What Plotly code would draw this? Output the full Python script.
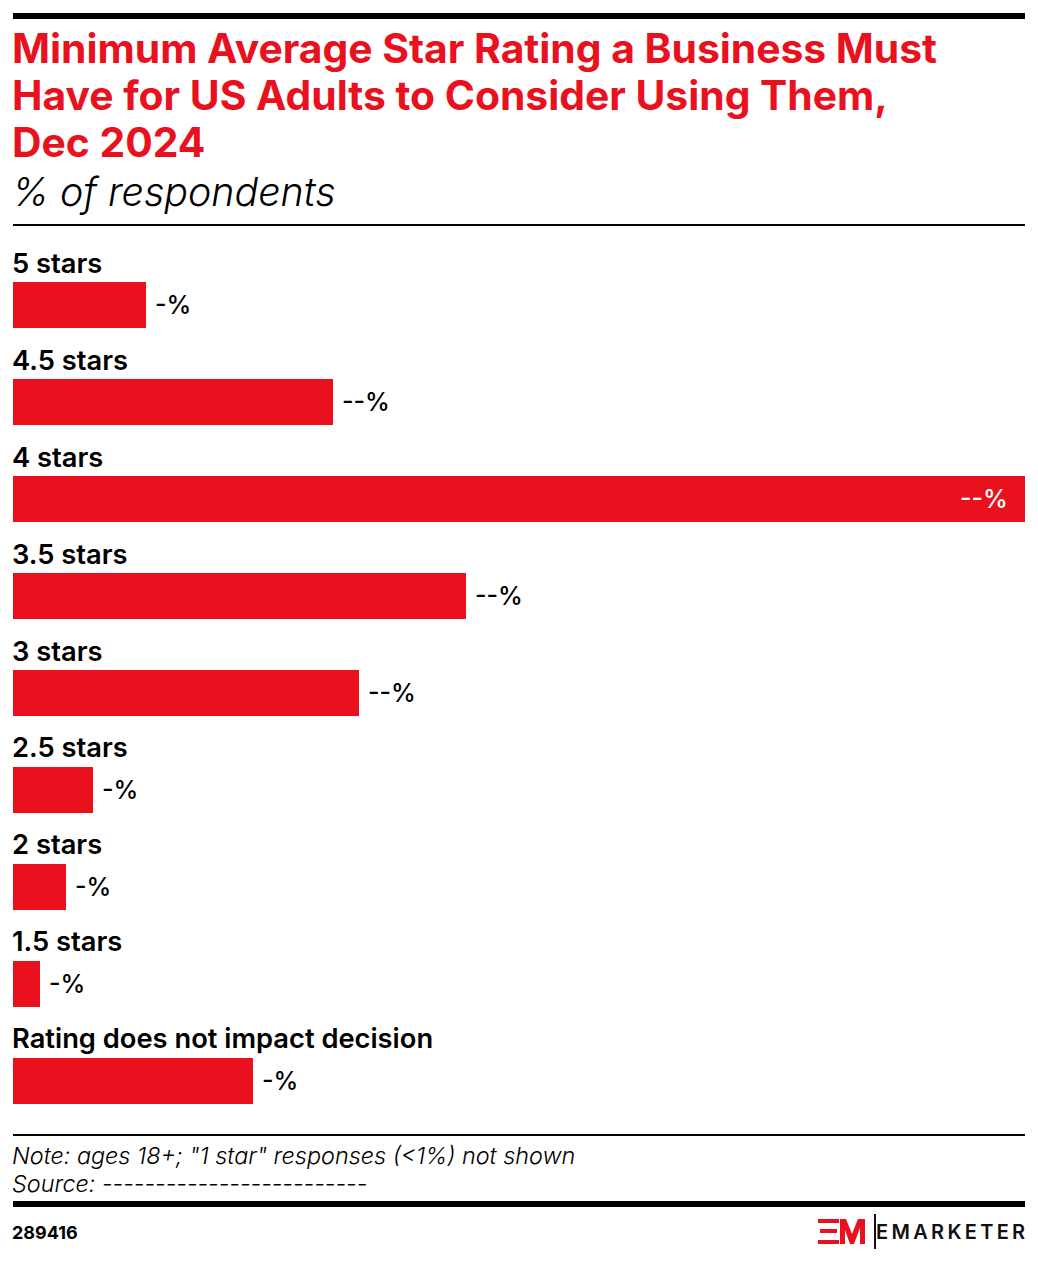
import plotly.graph_objects as go

categories = ["5 stars", "4.5 stars", "4 stars", "3.5 stars", "3 stars",
              "2.5 stars", "2 stars", "1.5 stars", "Rating does not impact decision"]
values = [5, 12, 38, 17, 13, 3, 2, 1, 9]
value_labels = ["-%", "--%", "--%", "--%", "--%", "-%", "-%", "-%", "-%"]
inside_label = [False, False, True, False, False, False, False, False, False]

title_lines = ["Minimum Average Star Rating a Business Must",
               "Have for US Adults to Consider Using Them,",
               "Dec 2024"]
subtitle = "% of respondents"
note = "Note: ages 18+; \"1 star\" responses (<1%) not shown"
source = "Source: -------------------------"
chart_id = "289416"

RED = "#E8111D"
W, H = 1038, 1262
ML, MR, MT, MB = 13, 13, 257, 133
PW = W - ML - MR
PH = H - MT - MB
FONT = "Inter, Roboto, sans-serif"


def px2x(px):
    return (px - ML) / PW


def px2y(py):
    return (H - MB - py) / PH


fig = go.Figure()
fig.add_trace(go.Bar(
    x=values, y=categories, orientation="h",
    marker=dict(color=RED, line=dict(width=0)),
    width=0.474, hoverinfo="skip", cliponaxis=False,
))

annotations = []
# category labels above bars
for c in categories:
    annotations.append(dict(
        x=0, y=c, xref="x", yref="y", text=c, showarrow=False,
        xanchor="left", yanchor="middle", yshift=42, xshift=-3,
        font=dict(family=FONT, size=27.3, color="#000", weight=600),
    ))
# value labels
for c, v, lab, ins in zip(categories, values, value_labels, inside_label):
    annotations.append(dict(
        x=v, y=c, xref="x", yref="y", text=lab, showarrow=False,
        xanchor="right" if ins else "left", yanchor="middle",
        xshift=-15 if ins else 7,
        font=dict(family=FONT, size=25, color="#fff" if ins else "#000", weight=500),
    ))


def text_at(px, py, txt, size, color="#000", weight=400, style="normal",
            xanchor="left"):
    annotations.append(dict(
        x=px2x(px), y=px2y(py), xref="paper", yref="paper",
        text=txt, showarrow=False, align=xanchor,
        xanchor=xanchor, yanchor="middle",
        font=dict(family=FONT, size=size, color=color, weight=weight, style=style),
    ))


# title
for i, line in enumerate(title_lines):
    text_at(10, 48 + 47 * i, line, 40.8, RED, 700)
text_at(10, 192, subtitle, 39.4, "#000", 300, "italic")
text_at(10, 1155, note, 23.4, "#000", 300, "italic")
text_at(10, 1183, source, 23.4, "#000", 300, "italic")
text_at(10, 1232, chart_id, 18, "#000", 700)
text_at(1027, 1232, "\u2009".join("EMARKETER"), 20, "#111", 600, xanchor="right")

shapes = []


def rect(x0, y0, x1, y1, color):
    shapes.append(dict(type="rect", xref="paper", yref="paper",
                       x0=px2x(x0), x1=px2x(x1), y0=px2y(y0), y1=px2y(y1),
                       fillcolor=color, line=dict(width=0), layer="above"))


rect(13, 13, 1025, 19, "#000")
rect(13, 224, 1025, 226, "#000")
rect(13, 1134, 1025, 1136, "#000")
rect(13, 1201, 1025, 1207, "#000")

# EM logo (decorative)
rect(818, 1219, 839, 1223, RED)
rect(820, 1229, 837, 1233, RED)
rect(818, 1240, 839, 1244, RED)
pts = [(840, 1244), (840, 1219), (846, 1219), (852, 1234), (858, 1219), (865, 1219),
       (865, 1244), (860, 1244), (860, 1228), (854, 1244), (850, 1244), (845, 1230), (845, 1244)]
path = "M " + " L ".join(f"{px2x(a)},{px2y(b)}" for a, b in pts) + " Z"
shapes.append(dict(type="path", xref="paper", yref="paper", path=path,
                   fillcolor=RED, line=dict(width=0), layer="above"))
rect(874, 1214, 876, 1249, "#111")

fig.update_layout(
    width=W, height=H,
    margin=dict(l=ML, r=MR, t=MT, b=MB, pad=0),
    paper_bgcolor="#fff", plot_bgcolor="#fff",
    showlegend=False,
    xaxis=dict(range=[0, 38], visible=False, fixedrange=True),
    yaxis=dict(range=[len(categories) - 0.5, -0.5], autorange=False,
               visible=False, fixedrange=True,
               categoryorder="array", categoryarray=categories),
    annotations=annotations, shapes=shapes,
    bargap=0,
)

fig.write_html("out.html")
